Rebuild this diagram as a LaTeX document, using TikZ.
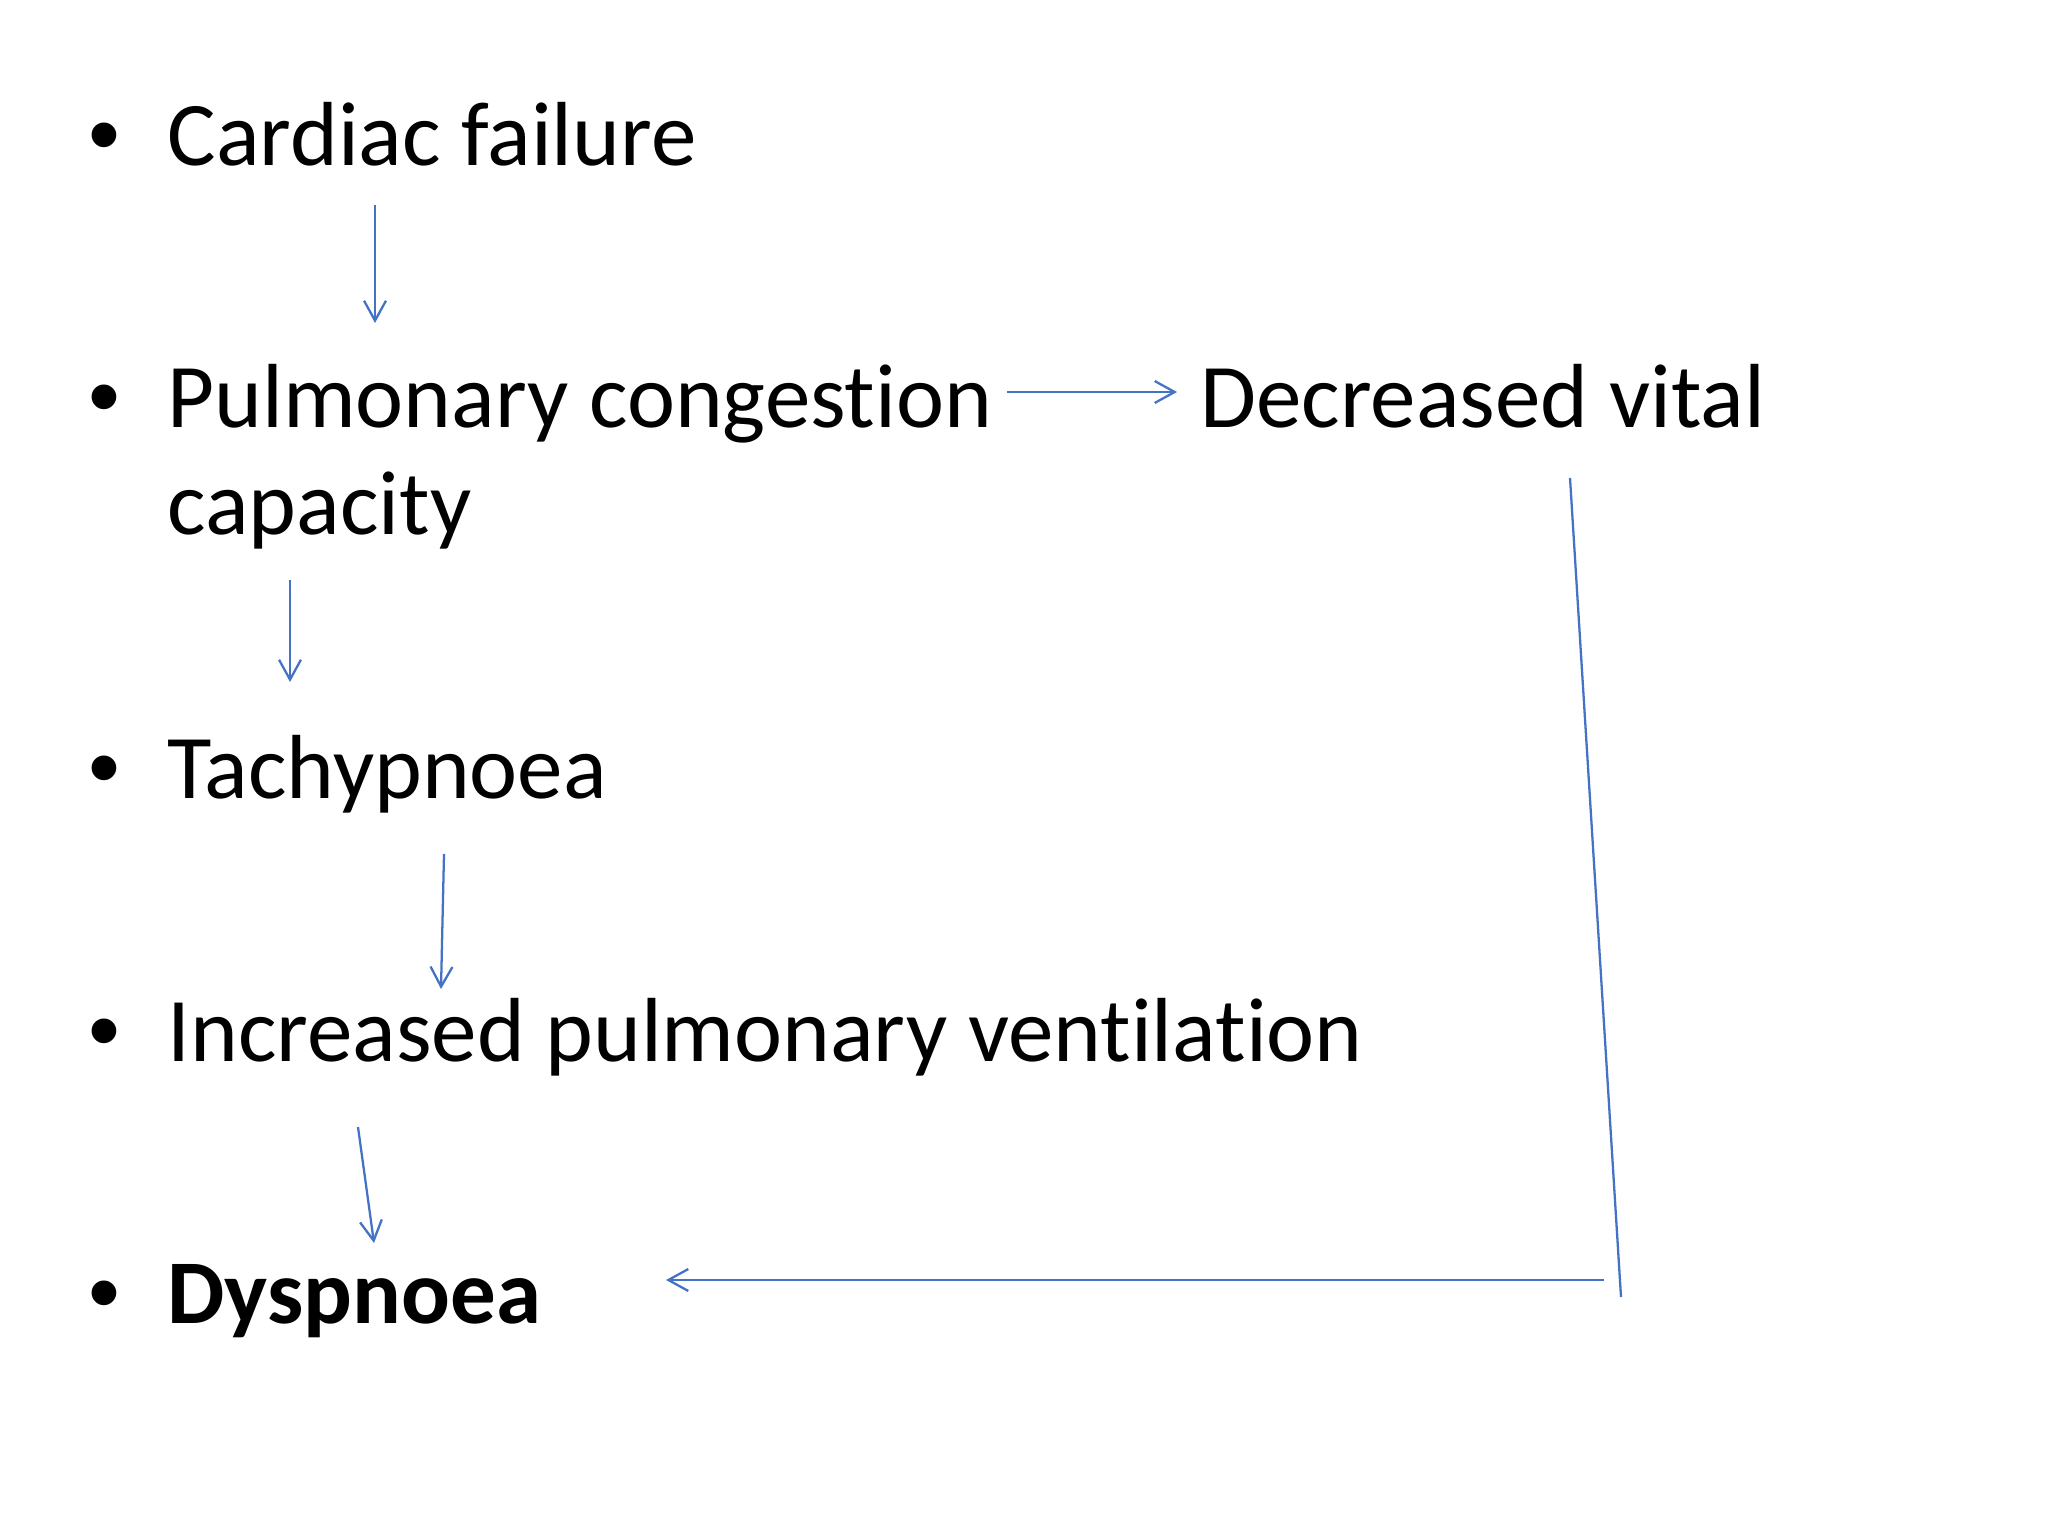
\documentclass[tikz,border=0pt]{standalone}
\usepackage{fontspec}
\setmainfont[Ligatures=NoCommon,RawFeature={-liga;-dlig;-clig}]{Carlito}
\newfontfamily\bulletfont{Liberation Sans}
\usetikzlibrary{arrows.meta}
\definecolor{arrowblue}{HTML}{4472C4}
\begin{document}
\begin{tikzpicture}[x=0.3515625pt,y=-0.3515625pt,
  item/.style={anchor=base west, inner sep=0pt, font=\fontsize{32}{38.4}\selectfont},
  bul/.style={anchor=base, inner sep=0pt, font=\bulletfont\fontsize{32}{38.4}\selectfont},
  conn/.style={draw=arrowblue, line width=0.8pt, -{Straight Barb[length=7pt,width=7.7pt]}},
  plainline/.style={draw=arrowblue, line width=0.8pt}]
\useasboundingbox[fill=white] (0,0) rectangle (2048,1536);
% bullets
\node[bul] (b1) at (104,166) {•};
\node[bul] (b2) at (104,428) {•};
\node[bul] (b3) at (104,798) {•};
\node[bul] (b4) at (104,1061) {•};
\node[bul] (b5) at (104,1323) {•};
% texts
\node[item] (cardiac) at (167,166) {Cardiac failure};
\node[item] (pulm) at (167,428) {Pulmonary congestion};
\node[item] (cap) at (167,535) {capacity};
\node[item] (dvc) at (1200,428) {Decreased vital};
\node[item] (tachy) at (167,798) {Tachypnoea};
\node[item] (incr) at (167,1061) {Increased pulmonary ventilation};
\node[item, font=\fontsize{32}{38.4}\selectfont\bfseries] (dysp) at (167,1323) {Dyspnoea};
% connector end points
\coordinate (a1s) at (375,205);
\coordinate (a1e) at (375,323);
\coordinate (a2s) at (1007,392);
\coordinate (a2e) at (1177,392);
\coordinate (a3s) at (290,580);
\coordinate (a3e) at (290,682);
\coordinate (a4s) at (444,854);
\coordinate (a4e) at (441,989);
\coordinate (a5s) at (358,1127);
\coordinate (a5e) at (374,1243);
\coordinate (ltop) at (1570,478);
\coordinate (lbot) at (1621,1297);
\coordinate (hs) at (1604,1280);
\coordinate (he) at (666,1280);
% connectors
\draw[conn] (a1s) -- (a1e);
\draw[conn] (a2s) -- (a2e);
\draw[conn] (a3s) -- (a3e);
\draw[conn] (a4s) -- (a4e);
\draw[conn] (a5s) -- (a5e);
\draw[plainline] (ltop) -- (lbot);
\draw[conn] (hs) -- (he);
\end{tikzpicture}
\end{document}
